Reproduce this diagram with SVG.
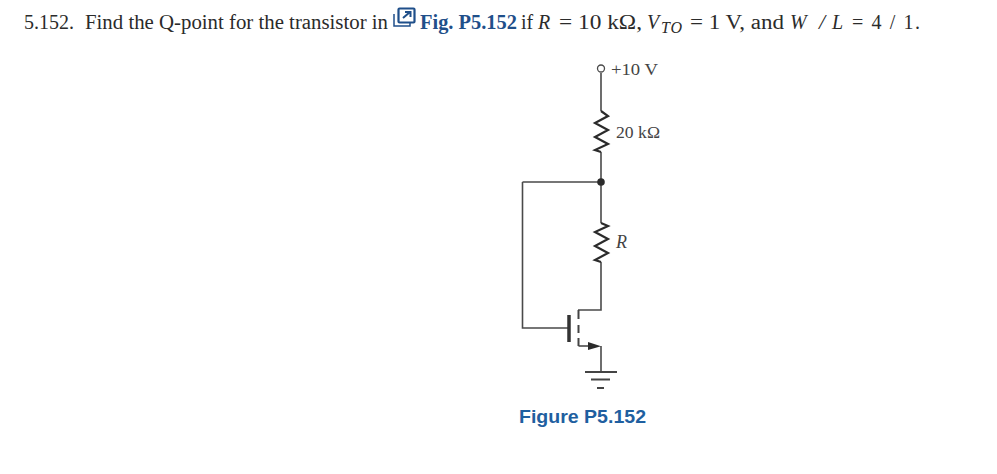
<svg xmlns="http://www.w3.org/2000/svg" width="997" height="474" viewBox="0 0 997 474">
<style>
text{font-family:"Liberation Serif","Times New Roman",serif;fill:#2b2b2b}
.q{font-size:20px}
.b{font-weight:bold;fill:#1f4f8a}
.i{font-style:italic}
.c{font-size:16px;fill:#444}
.w{fill:none;stroke:#4a4a4a;stroke-width:1.6}
.r{fill:none;stroke:#2b2b2b;stroke-width:2.2}
</style>
<rect width="997" height="474" fill="#fff"/>
<g id="question">
<text class="q" x="24" y="29" textLength="50" lengthAdjust="spacingAndGlyphs">5.152.</text>
<text class="q" x="85" y="29" textLength="303" lengthAdjust="spacingAndGlyphs">Find the Q-point for the transistor in</text>
<g id="link-icon" fill="none" stroke="#1f4f8a">
<path d="M394 14V26H410V23" stroke-width="1.500"/>
<rect x="398.500" y="8.500" width="16" height="14" rx="1" stroke-width="2.200" fill="#fff"/>
<path d="M403 18L410 12M405 12H410.500V17" stroke-width="2"/>
</g>
<text class="q b" x="420" y="29" textLength="97" lengthAdjust="spacingAndGlyphs">Fig. P5.152</text>
<text class="q" x="521" y="29">if</text>
<text class="q i" x="538" y="29">R</text>
<text class="q" x="559" y="29" textLength="83" lengthAdjust="spacingAndGlyphs">= 10 kΩ,</text>
<text class="q i" x="647" y="29">V</text>
<text class="i" x="661" y="33" font-size="16" textLength="21">TO</text>
<text class="q" x="690" y="29" textLength="94" lengthAdjust="spacingAndGlyphs">= 1 V, and</text>
<text class="q i" x="790" y="29">W</text>
<text class="i" x="819" y="29" font-size="22">/</text>
<text class="q i" x="832" y="29">L</text>
<text class="q" x="852" y="29" textLength="68" lengthAdjust="spacing">= 4 / 1.</text>
</g>
<g id="connectors">
<path class="w" d="M601 73V111M601 152V223M601 262V310H578M522.500 182H601M522.500 182V328H569"/>
<path class="w" d="M601 346V372"/>
<path class="w" d="M578.500 346H590"/>
</g>
<g id="supply">
<circle cx="601" cy="68.500" r="3.500" fill="#fff" stroke="#4a4a4a" stroke-width="1.300"/>
<text class="c" x="611" y="75" style="font-size:17px" textLength="47" lengthAdjust="spacingAndGlyphs">+10 V</text>
</g>
<g id="r1">
<path class="r" d="M601 111L608 116L595 123L608 130L595 137L608 144L595 150L601 152"/>
<text class="c" x="616" y="138" textLength="44" lengthAdjust="spacingAndGlyphs">20 kΩ</text>
</g>
<g id="junction"><circle cx="601" cy="182" r="3.800" fill="#2b2b2b"/></g>
<g id="r2">
<path class="r" d="M601 223L608 226L595 232L608 239L595 246L608 253L595 260L601 262"/>
<text class="c i" x="616" y="248" style="font-size:18px">R</text>
</g>
<g id="transistor">
<path d="M569 315V342" fill="none" stroke="#333" stroke-width="3.500"/>
<path d="M578.500 310V319M578.500 325V333M578.500 338V346" fill="none" stroke="#444" stroke-width="2"/>
<path d="M588 342L601 346.200L588 350Z" fill="#2b2b2b"/>
</g>
<g id="ground">
<path d="M585 372H617M591 379.500H610M597 388H604" fill="none" stroke="#444" stroke-width="1.800"/>
</g>
<g id="caption">
<text x="519" y="423" textLength="127" lengthAdjust="spacingAndGlyphs" style="font-family:'Liberation Sans',Arial,sans-serif;font-size:17.500px;font-weight:bold;fill:#1f5fa0">Figure P5.152</text>
</g>
</svg>
